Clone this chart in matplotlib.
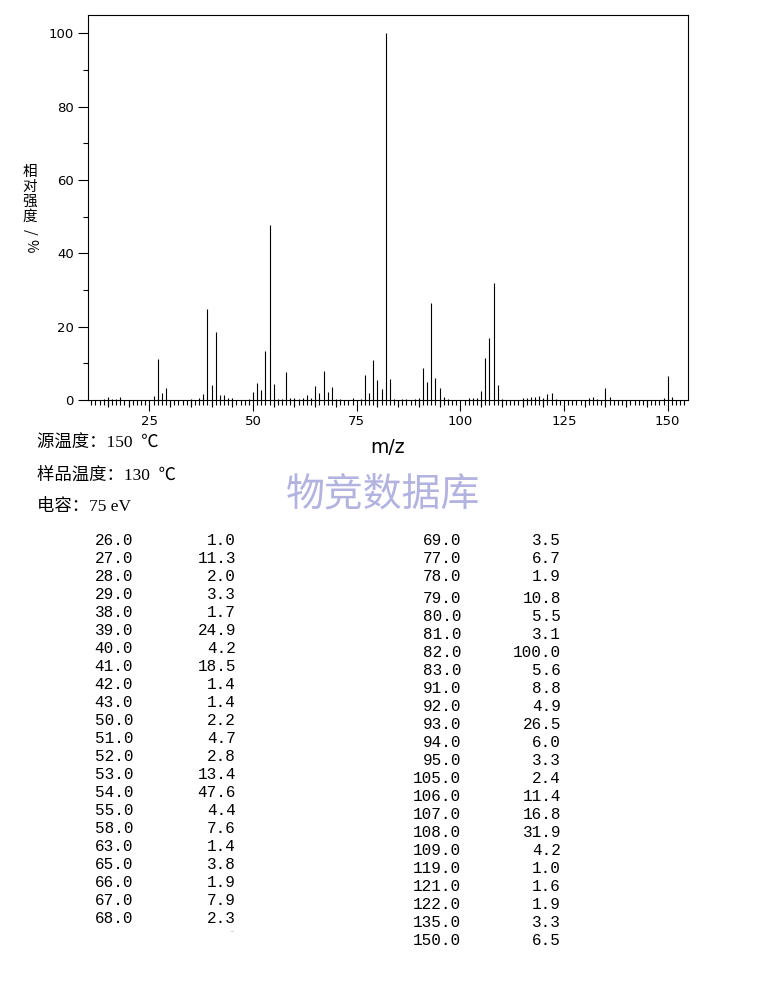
import matplotlib
matplotlib.use('Agg')
import matplotlib.pyplot as plt
from matplotlib.ticker import MultipleLocator

# peaks listed in the table (m/z, relative intensity %)
table_mz = [26, 27, 28, 29, 38, 39, 40, 41, 42, 43, 50, 51, 52, 53, 54, 55, 58,
            63, 65, 66, 67, 68, 69, 77, 78, 79, 80, 81, 82, 83, 91, 92, 93, 94,
            95, 105, 106, 107, 108, 109, 119, 121, 122, 135, 150]
table_int = [1.0, 11.3, 2.0, 3.3, 1.7, 24.9, 4.2, 18.5, 1.4, 1.4, 2.2, 4.7, 2.8,
             13.4, 47.6, 4.4, 7.6, 1.4, 3.8, 1.9, 7.9, 2.3, 3.5, 6.7, 1.9, 10.8,
             5.5, 3.1, 100.0, 5.6, 8.8, 4.9, 26.5, 6.0, 3.3, 2.4, 11.4, 16.8,
             31.9, 4.2, 1.0, 1.6, 1.9, 3.3, 6.5]

# small peaks only seen in the spectrum
minor_mz = [14, 15, 16, 17, 18, 35, 37, 44, 45, 49, 56, 57, 59, 60, 61, 62, 64,
            70, 71, 74, 76, 84, 86, 87, 89, 90, 96, 97, 102, 103, 104, 110, 115,
            116, 117, 118, 120, 123, 131, 132, 133, 136, 149, 151]
minor_int = [0.3, 0.9, 0.3, 0.4, 0.9, 0.3, 0.5, 0.6, 0.45, 0.4, 0.4, 0.4, 0.6,
             0.45, 0.4, 0.5, 0.6, 0.4, 0.3, 0.5, 0.4, 0.4, 0.3, 0.4, 0.3, 0.45,
             0.7, 0.4, 0.6, 0.6, 0.45, 0.3, 0.6, 0.6, 0.9, 0.8, 0.6, 0.4, 0.45,
             0.9, 0.4, 0.7, 0.45, 0.9]

ylabel_chars = ['相', '对', '强', '度', '/', '%']
info_lines = ['源温度：150  ℃', '样品温度：130  ℃', '电容：75 eV']
watermark = '物竞数据库'

W, H = 765, 992


def fx(x):
    return x / W


def fy(y):
    return 1 - y / H


fig = plt.figure(figsize=(W / 100, H / 100), dpi=100)
ax = fig.add_axes([fx(88), fy(400), 600 / W, 385 / H])

ax.vlines(table_mz, 0, table_int, color='black', linewidth=0.8)
ax.vlines(minor_mz, 0, minor_int, color='black', linewidth=0.8)

ax.set_xlim(10.2, 154.9)
ax.set_ylim(0, 105)
for s in ax.spines.values():
    s.set_linewidth(0.8)

ax.xaxis.set_major_locator(MultipleLocator(25))
ax.xaxis.set_minor_locator(MultipleLocator(1))
ax.yaxis.set_major_locator(MultipleLocator(20))
ax.yaxis.set_minor_locator(MultipleLocator(10))
ax.tick_params(axis='x', which='major', direction='out', length=7.7, width=0.8,
               pad=3, labelsize=9.5)
ax.tick_params(axis='x', which='minor', direction='out', length=3.4, width=0.8)
ax.tick_params(axis='y', which='major', direction='out', length=7.2, width=0.8,
               pad=3, labelsize=9.5)
ax.tick_params(axis='y', which='minor', direction='out', length=3.6, width=0.8)

# medium ticks every 5
sec = ax.secondary_xaxis('bottom')
sec.set_xticks([v for v in range(15, 155, 5) if v % 25])
sec.tick_params(length=5, width=0.8, labelbottom=False)
sec.spines['bottom'].set_visible(False)

fig.text(fx(388), fy(447), 'm/z', fontsize=13.5, ha='center', va='center')

# vertical stacked y label
cjk = ['Noto Sans CJK SC', 'DejaVu Sans']
label_y = [171.5, 187, 202, 217, 231.5, 245.5]
for ch, yy in zip(ylabel_chars, label_y):
    rot = 270 if ch in '/%' else 0
    fig.text(fx(30), fy(yy), ch, family=cjk, fontsize=10.5, rotation=rot,
             ha='center', va='center')

info_font = ['Liberation Serif', 'Noto Sans CJK SC']
for i, line in enumerate(info_lines):
    fig.text(fx(37), fy(444 + 31.5 * i), line, family=info_font, fontsize=12.5,
             ha='left', va='center')

fig.text(fx(383), fy(495), watermark, family=cjk, fontsize=28,
         color='#b3b3e0', ha='center', va='center')

# peak table in two columns
n_left = 22
for i, (m, v) in enumerate(zip(table_mz, table_int)):
    if i < n_left:
        row, x1, x2, shift = i, 133, 236, 0
    else:
        row = i - n_left
        x1, x2 = 461, 561
        shift = 4 if row >= 3 else 0
    y = 545 + 18 * row + shift
    fig.text(fx(x1), fy(y), f'{m:.1f}', family='Liberation Mono',
             fontsize=11.5, ha='right', va='baseline')
    fig.text(fx(x2), fy(y), f'{v:.1f}', family='Liberation Mono',
             fontsize=11.5, ha='right', va='baseline')

# faint clipped mark below the left column
fig.text(fx(232), fy(931), '-', family='Liberation Mono', fontsize=8,
         color='#c8c8c8', ha='center', va='center')

fig.savefig('out.png', dpi=100)
